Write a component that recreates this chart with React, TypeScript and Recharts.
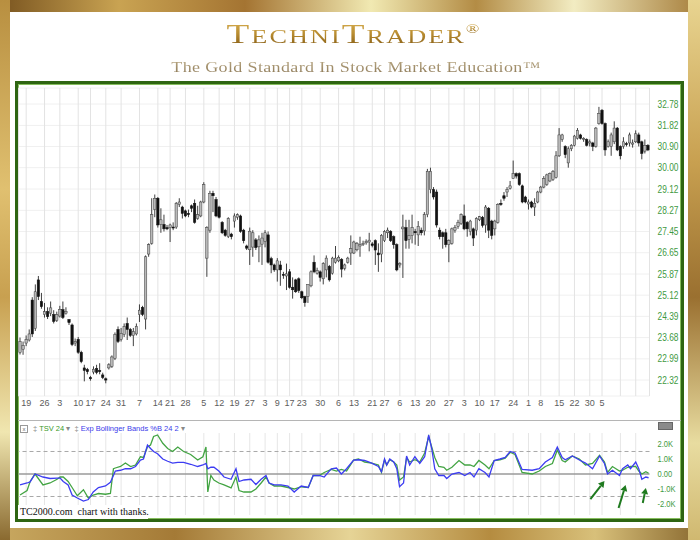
import React from 'react';
import {
  ComposedChart,
  Bar,
  Line,
  XAxis,
  YAxis,
  CartesianGrid,
  ReferenceLine
} from 'recharts';

// daily candles (log price scale)
const opens = [
  23.19, 23.30, 23.50, 23.60, 24.95, 23.98, 25.66, 24.90, 24.45, 24.55,
  24.50, 24.45, 24.25, 24.40, 24.62, 24.50, 24.28, 24.10, 23.50, 23.62,
  23.20, 22.70, 22.65, 22.40, 22.57, 22.68, 22.62, 22.48, 22.36, 22.70,
  22.75, 23.00, 23.95, 23.62, 23.78, 24.15, 23.95, 23.75, 23.80, 24.45,
  24.70, 24.30, 26.60, 27.00, 28.30, 28.75, 27.72, 27.72, 27.60, 27.60,
  27.62, 27.62, 28.50, 28.40, 28.25, 28.15, 28.45, 28.55, 27.95, 28.05,
  28.60, 26.45, 27.50, 28.95, 28.70, 28.40, 27.80, 27.50, 27.25, 27.35,
  27.85, 28.00, 28.05, 27.50, 26.90, 26.76, 26.86, 27.13, 26.87, 26.97,
  27.07, 27.32, 26.43, 26.20, 26.02, 26.20, 25.86, 25.80, 25.95, 25.40,
  25.66, 25.70, 25.24, 25.07, 25.07, 25.45, 26.30, 25.90, 25.95, 25.70,
  26.02, 26.15, 25.90, 26.30, 26.35, 26.40, 26.08, 26.30, 26.64, 26.64,
  26.76, 26.90, 26.95, 27.02, 27.05, 26.98, 27.10, 26.64, 26.60, 27.10,
  27.40, 27.45, 27.25, 26.95, 26.20, 27.55, 27.60, 27.15, 27.30, 27.45,
  27.32, 27.50, 27.47, 28.10, 29.10, 29.10, 29.00, 27.50, 27.40, 27.40,
  26.95, 27.00, 27.50, 27.65, 27.75, 28.05, 27.80, 27.45, 27.55, 27.50,
  27.90, 28.00, 27.70, 28.35, 27.85, 27.55, 27.80, 28.55, 28.85, 29.00,
  29.15, 29.55, 29.75, 29.75, 29.25, 28.80, 28.52, 28.60, 28.40, 28.60,
  29.00, 29.20, 29.30, 29.45, 29.50, 29.60, 30.50, 31.20, 30.90, 30.20,
  30.80, 30.95, 31.25, 31.40, 31.20, 31.20, 31.05, 31.05, 30.90, 31.90,
  32.50, 31.90, 30.90, 30.90, 31.10, 31.70, 30.90, 30.90, 31.02, 31.05,
  31.00, 31.10, 31.40, 31.10, 30.70, 30.95
];
const closes = [
  23.55, 23.42, 23.62, 23.80, 23.80, 25.24, 25.07, 24.72, 24.55, 24.38,
  24.68, 24.22, 24.45, 24.62, 24.35, 24.55, 24.18, 23.45, 23.55, 23.20,
  22.90, 22.62, 22.58, 22.36, 22.66, 22.56, 22.58, 22.40, 22.32, 22.80,
  23.05, 23.78, 23.55, 23.82, 24.05, 23.95, 23.75, 23.88, 24.05, 24.60,
  24.45, 26.50, 26.95, 28.10, 28.75, 27.70, 27.90, 27.55, 27.55, 27.70,
  27.60, 28.55, 28.60, 28.15, 28.05, 28.10, 28.35, 27.80, 28.10, 28.60,
  29.30, 27.60, 28.95, 28.85, 28.05, 28.00, 27.40, 27.30, 27.95, 27.25,
  28.05, 28.10, 27.45, 27.10, 26.82, 27.46, 27.40, 26.84, 27.13, 27.20,
  27.40, 26.30, 26.20, 26.02, 26.35, 26.02, 25.82, 25.88, 25.40, 25.31,
  25.24, 25.28, 25.03, 24.86, 25.49, 25.95, 25.95, 26.00, 25.75, 26.25,
  26.45, 25.66, 26.45, 26.45, 26.48, 26.05, 26.20, 26.45, 26.80, 27.05,
  27.00, 26.95, 27.00, 27.08, 27.12, 26.92, 26.75, 26.57, 27.30, 27.45,
  27.50, 27.10, 26.95, 26.02, 26.25, 27.62, 27.10, 27.30, 27.60, 27.40,
  27.65, 27.40, 28.10, 29.85, 29.85, 28.80, 27.70, 27.25, 27.25, 26.95,
  27.10, 27.55, 27.60, 27.80, 28.10, 27.55, 27.55, 27.85, 27.20, 27.95,
  28.02, 27.68, 28.40, 27.50, 27.30, 27.85, 28.50, 28.50, 28.75, 29.10,
  29.25, 29.75, 29.65, 29.30, 28.60, 28.60, 28.60, 28.40, 28.55, 29.00,
  29.20, 29.55, 29.70, 29.75, 29.85, 30.50, 31.40, 31.40, 30.55, 30.80,
  30.95, 31.35, 31.60, 31.25, 31.25, 30.95, 31.10, 30.90, 31.70, 32.35,
  31.90, 30.75, 31.10, 31.40, 31.70, 30.75, 30.50, 31.10, 30.98, 31.40,
  31.05, 31.45, 31.05, 30.60, 30.95, 30.75
];
const highs = [
  23.68, 23.55, 23.75, 23.95, 25.05, 25.50, 25.80, 25.20, 24.85, 24.70,
  24.90, 24.60, 24.55, 24.75, 24.90, 24.70, 24.30, 24.15, 23.65, 23.70,
  23.25, 22.80, 22.70, 22.45, 22.75, 22.80, 22.85, 22.55, 22.40, 22.85,
  23.10, 23.85, 24.05, 24.00, 24.15, 24.35, 24.00, 24.00, 24.15, 24.80,
  24.75, 26.55, 27.00, 28.75, 28.90, 28.80, 28.35, 28.10, 27.70, 27.75,
  27.80, 28.60, 28.75, 28.45, 28.30, 28.30, 28.50, 28.70, 28.45, 28.65,
  29.40, 27.65, 29.05, 29.05, 28.80, 28.45, 27.85, 27.55, 28.00, 27.40,
  28.15, 28.15, 28.10, 27.55, 26.95, 27.60, 27.50, 27.20, 27.30, 27.40,
  27.50, 27.45, 26.50, 26.25, 26.45, 26.35, 25.95, 26.25, 26.05, 25.75,
  25.70, 25.75, 25.28, 25.10, 25.50, 26.00, 26.55, 26.10, 26.00, 26.30,
  26.55, 26.20, 26.50, 26.90, 26.55, 26.45, 26.25, 26.50, 27.30, 27.10,
  27.05, 27.25, 27.10, 27.15, 27.40, 27.05, 27.15, 27.00, 27.35, 27.50,
  27.60, 27.50, 27.30, 27.00, 26.30, 28.10, 27.90, 27.90, 28.10, 27.55,
  27.85, 27.60, 28.20, 29.95, 30.00, 29.20, 29.10, 27.60, 27.45, 27.55,
  27.15, 27.60, 27.70, 27.90, 28.15, 28.50, 27.85, 27.90, 27.60, 28.00,
  28.05, 28.05, 28.48, 28.40, 27.90, 27.90, 28.55, 28.70, 29.00, 29.20,
  29.45, 30.30, 29.80, 29.80, 29.30, 28.85, 28.70, 28.65, 28.75, 29.05,
  29.25, 29.65, 29.75, 29.80, 29.90, 30.70, 31.70, 31.45, 30.95, 30.90,
  31.00, 31.40, 31.70, 31.45, 31.30, 31.25, 31.20, 31.10, 31.75, 32.65,
  32.55, 31.95, 31.20, 31.50, 32.00, 31.75, 30.95, 31.30, 31.10, 31.50,
  31.20, 31.60, 31.50, 31.15, 31.20, 31.00
];
const lows = [
  23.13, 23.12, 23.40, 23.55, 23.70, 23.90, 24.95, 24.65, 24.35, 24.30,
  24.40, 24.15, 24.20, 24.35, 24.30, 24.45, 24.10, 23.40, 23.40, 23.15,
  22.85, 22.28, 22.50, 22.30, 22.50, 22.50, 22.50, 22.35, 22.22, 22.65,
  22.70, 22.95, 23.50, 23.55, 23.70, 23.60, 23.70, 23.40, 23.75, 24.20,
  24.40, 23.95, 26.50, 26.95, 28.00, 27.60, 27.40, 27.45, 27.50, 27.05,
  27.50, 27.55, 28.40, 27.95, 28.00, 28.00, 28.20, 27.75, 27.90, 28.00,
  28.55, 25.77, 27.40, 28.20, 28.00, 27.95, 27.35, 27.25, 27.20, 27.15,
  27.60, 27.90, 27.40, 27.00, 26.75, 26.20, 26.50, 26.75, 26.30, 26.20,
  26.85, 26.25, 25.90, 25.95, 25.60, 25.45, 25.70, 25.30, 25.35, 25.00,
  25.20, 25.20, 24.98, 24.72, 24.85, 25.40, 25.90, 25.85, 25.60, 25.50,
  25.75, 25.60, 25.85, 26.25, 26.30, 25.75, 26.00, 26.25, 26.20, 26.60,
  26.70, 26.50, 26.90, 26.95, 26.70, 26.85, 26.20, 25.95, 26.30, 27.05,
  27.20, 27.05, 26.80, 25.97, 26.10, 25.73, 26.80, 26.80, 27.00, 26.95,
  26.90, 27.30, 27.30, 28.00, 28.95, 28.70, 27.60, 27.15, 26.80, 26.85,
  26.30, 26.95, 27.40, 27.55, 27.70, 27.50, 27.25, 27.30, 26.90, 27.30,
  27.85, 27.60, 27.40, 27.20, 27.15, 27.30, 27.75, 28.45, 28.65, 28.80,
  29.10, 29.55, 29.55, 29.25, 28.55, 28.55, 28.30, 28.35, 28.05, 28.55,
  28.95, 29.15, 29.25, 29.40, 29.45, 29.55, 30.45, 31.10, 30.40, 30.00,
  30.70, 30.90, 31.20, 31.20, 31.10, 30.90, 30.90, 30.70, 30.85, 31.85,
  31.85, 30.50, 30.85, 30.50, 31.00, 30.70, 30.35, 30.80, 30.90, 30.90,
  30.85, 31.05, 30.90, 30.35, 30.60, 30.70
];

const priceTicks = [22.32, 22.99, 23.68, 24.39, 25.12, 25.87, 26.65, 27.45, 28.27, 29.12, 30.0, 30.9, 31.82, 32.78];

// week labels (trading-day index they sit on)
const dayTicks = [2, 8, 13, 19, 23, 28, 33, 39, 45, 49, 54, 60, 65, 70, 75, 80, 84, 88, 92, 98,
  104, 109, 115, 119, 124, 129, 134, 140, 145, 150, 155, 161, 166, 170, 176, 181, 186, 190, 196, 201];
const dayLabels = ['19', '26', '3', '10', '17', '24', '31', '7', '14', '21', '28', '5', '12', '19', '27', '3', '9', '17', '23', '30',
  '6', '13', '21', '27', '6', '13', '20', '27', '3', '10', '17', '24', '1', '8', '15', '22', '30', '5', '', ''];

// lower panel: TSV 24 (green) and Exp Bollinger %B (blue), in K
const indDays = [0, 2.3, 3.3, 4.9, 7.5, 9.8, 12.1, 13.1, 14.1, 15.7, 17, 18.7, 20.7, 22.3, 23.9, 25.6, 27.9, 29.5, 30.5, 31.1,
  32.8, 34.4, 36.1, 37.7, 39.3, 40.3, 41.6, 42.6, 43.6, 44.9, 46.6, 48.2, 49.8, 51.5, 53.4, 55.7, 58, 59.7, 60.7, 61.3,
  62.3, 63.3, 64.9, 66.6, 68.9, 70.5, 71.5, 73.1, 75.4, 77, 78.7, 80.3, 81.3, 83, 85.2, 87.5, 89.5, 91.8, 94.1, 95.7,
  97.7, 99.3, 101.6, 103.3, 104.9, 106.6, 108.9, 110.5, 112.5, 114.8, 117, 118, 119, 119.7, 120.7, 122, 123, 123.9, 125.2, 126.2,
  127.2, 128.9, 130.5, 132.1, 133.4, 134.4, 135.4, 136.7, 138.4, 139.3, 141, 143.3, 145.2, 146.9, 148.2, 149.8, 151.8, 153.1, 154.8, 156.7,
  158.4, 160, 161.6, 163.9, 167.2, 169.5, 171.5, 173.8, 175.4, 177, 178, 180.3, 182.6, 184.6, 186.9, 189.2, 190.8, 191.8, 193.4, 195.7,
  196.7, 198.4, 199.3, 201, 202, 203, 204.3, 205.2];
const tsvK = [-1.4, -1.1, -0.5, 0, -0.73, -0.6, -0.35, -0.2, -0.2, -0.5, -0.9, -1.45, -1.05, -1.6, -1.4, -1.3, -1.35, -1.3, 0.35, 0.4,
  0.5, 0.73, 0.5, 0.6, 1.15, 1.1, 1.8, 1.93, 2.5, 2.6, 2.05, 1.7, 1.5, 1.8, 1.5, 1.3, 0.93, 1.15, 1.8, -1.2,
  -0.1, -0.4, -0.6, -0.73, -0.93, -0.2, -1.1, -1.2, -1.2, -1.0, -0.6, -0.2, -0.6, -0.8, -0.8, -0.9, -1.0, -0.85, -0.9, -0.1,
  -0.1, 0.1, 0.3, 0.2, 0.3, 0.2, 0.93, 1.0, 0.8, 0.73, 0.6, 0.1, 0.95, 0.6, 0.95, 0.8, 0.6, -0.4, -0.2, 1.1,
  0.8, 0.95, 0.8, 1.4, 2.5, 1.8, 1.1, 0.5, 0.45, 0.25, 0.45, 0.9, 0.6, 0.6, 0.5, 0.9, 0.6, 0.35, 0.9, 0.95,
  1.05, 1.45, 1.3, 0.1, 0, 0.2, 0.5, 0.7, 1.6, 0.9, 0.8, 1.2, 1.0, 0.6, 0.7, 1.25, 0.8, 0.1, 0.5, 0.2,
  0.25, 0.45, 0.5, 0.5, 0.2, 0, 0.15, 0.05];
const pctbK = [-0.73, -0.6, -0.53, 0, -0.2, -0.3, -0.27, -0.27, -0.5, -0.73, -1.4, -1.6, -1.8, -1.7, -1.2, -0.9, -0.8, -0.55, -0.1, 0.2,
  0.25, 0.35, 0.35, 0.5, 0.93, 1.0, 1.93, 1.7, 1.5, 1.35, 1.0, 0.85, 0.73, 0.78, 0.78, 0.65, 0.5, 0.6, 0.7, 0.35,
  0.45, 0.45, 0.2, -0.2, -0.35, 0.35, -0.5, -0.4, -0.35, -0.7, -0.35, -0.1, -0.6, -0.73, -0.73, -0.8, -1.2, -0.8, -0.9, -0.1,
  -0.1, -0.2, 0.35, 0.4, 0, 0.35, 0.93, 0.95, 0.9, 0.73, 0.5, 0.15, 1.0, 0.6, 1.0, 0.8, 0.35, -0.85, -0.6, 1.2,
  0.6, 1.15, 0.7, 1.15, 2.6, 1.7, 0.35, -0.1, -0.1, -0.3, 0, 0.1, -0.1, 0.1, -0.2, 0.35, 0.1, -0.2, 0.9, 1.0,
  1.1, 1.5, 1.4, 0.3, 0.25, 0.35, 0.8, 1.1, 1.8, 1.1, 0.95, 1.2, 0.93, 0.73, 0.35, 1.2, 0.7, 0, 0.25, -0.1,
  0.35, 0.6, 0.35, 0.8, 0.35, -0.35, -0.2, -0.25];
const indTicks = [-2, -1, 0, 1, 2];

// annotation arrows in the lower panel, [fromDay, fromK, toDay, toK]
const arrows = [
  [186.2, -1.67, 190.8, -0.47],
  [195.4, -2.27, 197.7, -0.73],
  [203.3, -1.93, 204.3, -0.93]
];

const candles = opens.map((o, i) => ({
  day: i,
  o,
  c: closes[i],
  h: highs[i],
  l: lows[i],
  range: [lows[i], highs[i]]
}));
const indData = indDays.map((d, k) => ({ d, tsv: tsvK[k], pctb: pctbK[k] }));

const xDomain = [-0.5, opens.length - 0.5];
const sans = "'Liberation Sans', Arial, sans-serif";
const serif = "'Liberation Serif', 'DejaVu Serif', serif";

const Candle = (props: any) => {
  const { x, y, width, height, payload } = props;
  if (!payload) return null;
  const top = Math.min(y, y + height);
  const bot = Math.max(y, y + height);
  const lh = Math.log(payload.h);
  const ll = Math.log(payload.l);
  const py = (p: number) => (lh === ll ? top : top + ((lh - Math.log(p)) / (lh - ll)) * (bot - top));
  const cx = x + width / 2;
  const up = payload.c >= payload.o;
  const bTop = py(Math.max(payload.o, payload.c));
  const bBot = py(Math.min(payload.o, payload.c));
  return (
    <g>
      <line x1={cx} x2={cx} y1={top} y2={bot} stroke="#2b2b2b" strokeWidth={0.9} />
      <rect
        x={cx - 1.2}
        y={bTop}
        width={2.4}
        height={Math.max(bBot - bTop, 1)}
        fill={up ? '#b9b9b9' : '#111'}
        stroke={up ? '#3a3a3a' : '#111'}
        strokeWidth={0.5}
      />
    </g>
  );
};

// narrow right-axis labels, like the condensed font of the original
const makeRightTick = (fmt: (v: number) => string, size: number) => (p: any) => {
  const { x, y, payload } = p;
  return (
    <text
      transform={`translate(${x},${y}) scale(0.84,1)`}
      dy="0.35em"
      textAnchor="start"
      fill="#3f9a3f"
      fontSize={size}
      fontFamily={sans}
    >
      {fmt(payload.value)}
    </text>
  );
};

const Arrow = (p: any) => {
  const { x1, y1, x2, y2 } = p;
  const a = Math.atan2(y2 - y1, x2 - x1);
  const L = 6;
  const W = 3.5;
  const bx = x2 - L * Math.cos(a);
  const by = y2 - L * Math.sin(a);
  const pts = `${x2},${y2} ${bx + W * Math.sin(a)},${by - W * Math.cos(a)} ${bx - W * Math.sin(a)},${by + W * Math.cos(a)}`;
  return (
    <g>
      <line x1={x1} y1={y1} x2={bx} y2={by} stroke="#1f7a1f" strokeWidth={2} />
      <polygon points={pts} fill="#1f7a1f" />
    </g>
  );
};

const fmtK = (v: number) => (v === 0 ? '0.00' : `${v.toFixed(1)}K`);
const fmtPrice = (v: number) => v.toFixed(2);

export default function App() {
  const goldText: React.CSSProperties = {
    backgroundImage: 'linear-gradient(180deg, #dcb455 0%, #b88c30 50%, #7c5410 100%)',
    WebkitBackgroundClip: 'text',
    backgroundClip: 'text',
    color: 'transparent'
  };

  return (
    <div style={{ position: 'absolute', left: 0, top: 0, width: 700, height: 540, overflow: 'hidden', background: '#fff' }}>
      {/* gold frame */}
      <div style={{ position: 'absolute', left: 0, top: 0, width: 700, height: 12,
        background: 'linear-gradient(90deg, #7a5520 0%, #c9a352 17%, #a47432 35%, #f1e9b2 53%, #b38c45 68%, #f2ecc2 82%, #a77f3c 100%)' }} />
      <div style={{ position: 'absolute', left: 0, top: 528, width: 700, height: 12,
        background: 'linear-gradient(90deg, #c8a860 0%, #a47a36 25%, #e6d496 50%, #b58c40 70%, #d8c07a 85%, #8a6a30 100%)' }} />
      <div style={{ position: 'absolute', left: 0, top: 0, width: 10, height: 540,
        background: 'linear-gradient(180deg, #b88f40 0%, #e0c070 35%, #c8a050 55%, #f0e6b0 80%, #8a6a30 100%)' }} />
      <div style={{ position: 'absolute', left: 688, top: 0, width: 12, height: 540,
        background: 'linear-gradient(180deg, #e8d490 0%, #c8a050 30%, #9a7030 55%, #e8dca0 82%, #d0b870 100%)' }} />

      {/* title */}
      <div style={{ position: 'absolute', left: 3, top: 21, width: 700, height: 27, textAlign: 'center', whiteSpace: 'nowrap',
        fontFamily: serif, fontSize: 27, lineHeight: '27px', fontVariant: 'small-caps', letterSpacing: 1.5,
        transform: 'scaleX(1.38)', transformOrigin: '350px 0' }}>
        <span style={goldText}>TechniTrader</span>
        <span style={{ ...goldText, fontSize: 13, position: 'relative', top: -10, letterSpacing: 0 }}>®</span>
      </div>
      <div style={{ position: 'absolute', left: 6, top: 60, width: 700, textAlign: 'center', whiteSpace: 'nowrap',
        fontFamily: serif, fontSize: 15, lineHeight: '15px', letterSpacing: 0.3,
        transform: 'scaleX(1.2)', transformOrigin: '350px 0' }}>
        <span style={{ ...goldText, backgroundImage: 'linear-gradient(180deg, #bcab86 0%, #8a7654 100%)' }}>
          The Gold Standard In Stock Market Education™
        </span>
      </div>

      {/* green chart box */}
      <div style={{ position: 'absolute', left: 15, top: 81, width: 669, height: 441, boxSizing: 'border-box',
        border: '3px solid #2e6512', boxShadow: 'inset 0 0 0 1px #86bd5e', background: '#fff' }} />
      <div style={{ position: 'absolute', left: 18, top: 420, width: 663, height: 1, background: '#b5b5b5' }} />

      {/* price panel */}
      <div style={{ position: 'absolute', left: 0, top: 80 }}>
        <ComposedChart width={700} height={340} data={candles} margin={{ top: 8, right: 10.5, bottom: 4, left: 18.5 }}>
          <CartesianGrid vertical={false} stroke="#f0f0f0" />
          <CartesianGrid horizontal={false} stroke="#e3e3e3" />
          <XAxis
            dataKey="day"
            type="number"
            domain={xDomain}
            ticks={dayTicks}
            interval={0}
            tickFormatter={(v: number) => dayLabels[dayTicks.indexOf(v)] ?? ''}
            tick={{ fill: '#5c5c5c', fontSize: 9, fontFamily: sans }}
            axisLine={false}
            tickLine={false}
            tickSize={0}
            tickMargin={4}
            height={20}
          />
          <YAxis
            orientation="right"
            scale="log"
            domain={[21.83, 33.52]}
            allowDataOverflow
            ticks={priceTicks}
            interval={0}
            tick={makeRightTick(fmtPrice, 10)}
            axisLine={false}
            tickLine={false}
            width={40}
          />
          <Bar dataKey="range" barSize={3} shape={Candle} isAnimationActive={false} />
        </ComposedChart>
      </div>

      {/* indicator legend */}
      <div style={{ position: 'absolute', left: 20, top: 425, width: 6, height: 6, border: '1px solid #999',
        fontSize: 6, lineHeight: '6px', textAlign: 'center', color: '#666', fontFamily: sans }}>x</div>
      <div style={{ position: 'absolute', left: 33, top: 424, fontFamily: sans, fontSize: 7.5,
        lineHeight: '10px', whiteSpace: 'nowrap', color: '#888' }}>
        <span>‡ </span>
        <span style={{ color: '#3a9a2a' }}>TSV 24</span>
        <span> ▾ &nbsp;‡ </span>
        <span style={{ color: '#3b3bea' }}>Exp Bollinger Bands %B 24 2</span>
        <span> ▾</span>
      </div>
      <div style={{ position: 'absolute', left: 658, top: 422, width: 13, height: 6, background: '#8a8a8a', border: '1px solid #666' }} />

      {/* indicator panel */}
      <div style={{ position: 'absolute', left: 0, top: 418 }}>
        <ComposedChart width={700} height={104} data={indData} margin={{ top: 15, right: 10.5, bottom: 7, left: 18.5 }}>
          <XAxis dataKey="d" type="number" domain={xDomain} hide />
          <YAxis
            orientation="right"
            domain={[-2.733, 2.733]}
            ticks={indTicks}
            interval={0}
            tick={makeRightTick(fmtK, 9)}
            axisLine={false}
            tickLine={false}
            width={40}
          />
          {dayTicks.map((d) => (
            <ReferenceLine key={`g-${d}`} x={d} stroke="#e6e6e6" />
          ))}
          <ReferenceLine y={1.5} stroke="#a8a8a8" strokeDasharray="4 3" />
          <ReferenceLine y={-1.5} stroke="#a8a8a8" strokeDasharray="4 3" />
          <ReferenceLine y={0} stroke="#9a9a9a" strokeWidth={1.3} />
          <Line dataKey="tsv" type="linear" stroke="#43a443" strokeWidth={1.3} dot={false} isAnimationActive={false} />
          <Line dataKey="pctb" type="linear" stroke="#3d3df2" strokeWidth={1.3} dot={false} isAnimationActive={false} />
          {arrows.map((a, k) => (
            <ReferenceLine
              key={`a-${k}`}
              segment={[{ x: a[0], y: a[1] }, { x: a[2], y: a[3] }]}
              shape={Arrow}
            />
          ))}
        </ComposedChart>
      </div>

      <div style={{ position: 'absolute', left: 18, top: 505, width: 128, height: 14, background: '#fff',
        fontFamily: serif, fontSize: 10, lineHeight: '14px', color: '#111', paddingLeft: 2, whiteSpace: 'pre' }}>
        TC2000.com  chart with thanks.
      </div>
    </div>
  );
}
